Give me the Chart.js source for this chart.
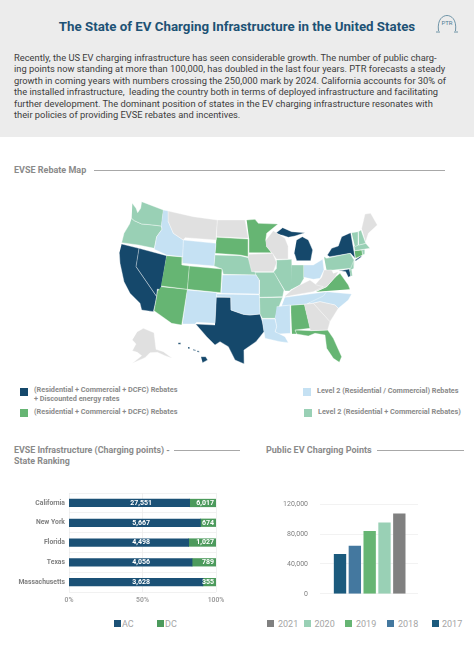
<!DOCTYPE html>
<html>
<head>
<meta charset="utf-8">
<script src="https://cdn.jsdelivr.net/npm/chart.js@4/dist/chart.umd.min.js"></script>
<style>
  html, body { margin: 0; padding: 0; background: #fff; }
  body { position: relative; width: 474px; height: 670px; overflow: hidden; font-family: Roboto, sans-serif; }
  .abs { position: absolute; white-space: nowrap; }
  #header { left: 0; top: 0; width: 474px; height: 137px; background: #ececec; }
  #title { left: 0; width: 474px; top: 17px; text-align: center; font-size: 13.3px; line-height: 20px; font-weight: 700; color: #1d5275; }
  #intro { left: 14px; top: 51.5px; font-size: 9.32px; line-height: 11.5px; color: #3c3c3c; }
  .heading { font-size: 9px; line-height: 10.5px; font-weight: 700; color: #8a8a8a; }
  .rule { height: 1px; background: #a8a8a8; }
  .key { font-size: 7.3px; line-height: 8.6px; font-weight: 700; color: #8a8a8a; }
  .swatch { width: 8px; height: 8px; }
  .leg { font-size: 9px; line-height: 10px; color: #a5a5a5; }
  canvas { position: absolute; }
</style>
</head>
<body>
<div class="abs" id="header"></div>
<div class="abs" id="title">The State of EV Charging Infrastructure in the United States</div>
<svg class="abs" style="left:435px;top:13px" width="24" height="21" viewBox="0 0 24 21" fill="none" stroke="#4f7d96" stroke-width="0.8">
  <path d="M3.5 18 C2 6 8 2.5 12 2.5 C16 2.5 22 6 20.5 18"/>
  <path d="M1 19 H5 M19 19 H23"/>
  <text x="12" y="12" text-anchor="middle" font-size="6" font-family="Roboto" fill="#4f7d96" stroke="none">PTR</text>
</svg>
<div class="abs" id="intro">Recently, the US EV charging infrastructure has seen considerable growth. The number of public charg-<br>ing points now standing at more than 100,000, has doubled in the last four years. PTR forecasts a steady<br>growth in coming years with numbers crossing the 250,000 mark by 2024. California accounts for 30% of<br>the installed infrastructure,&nbsp; leading the country both in terms of deployed infrastructure and facilitating<br>further development. The dominant position of states in the EV charging infrastructure resonates with<br>their policies of providing EVSE rebates and incentives.</div>

<div class="abs heading" style="left:14px;top:165px">EVSE Rebate Map</div>
<div class="abs rule" style="left:94px;top:170px;width:351px"></div>

<canvas id="mapChart" width="300" height="190" style="left:100px;top:190px"></canvas>

<div class="abs swatch" style="left:20px;top:388px;background:#15486b"></div>
<div class="abs key" style="left:34px;top:386px">(Residential + Commercial + DCFC) Rebates<br>+ Discounted energy rates</div>
<div class="abs swatch" style="left:20px;top:409px;background:#66b573"></div>
<div class="abs key" style="left:34px;top:408px">(Residential + Commercial + DCFC) Rebates</div>
<div class="abs swatch" style="left:303px;top:388px;background:#c5e1f3"></div>
<div class="abs key" style="left:317px;top:387px">Level 2 (Residential / Commercial) Rebates</div>
<div class="abs swatch" style="left:304px;top:409px;background:#99d0b5"></div>
<div class="abs key" style="left:318px;top:408px">Level 2 (Residential + Commercial Rebates)</div>

<div class="abs heading" style="left:14px;top:445px;font-size:8.9px">EVSE Infrastructure (Charging points) -<br>State Ranking</div>
<div class="abs rule" style="left:174px;top:450px;width:66px"></div>
<div class="abs heading" style="left:266px;top:445px">Public EV Charging Points</div>
<div class="abs rule" style="left:377px;top:450px;width:87px"></div>

<canvas id="rankChart" width="235" height="125" style="left:0;top:485px"></canvas>
<canvas id="yearChart" width="184" height="122" style="left:240px;top:488px"></canvas>

<div id="legends"></div>

<script>
const stateNames = ["California", "New York", "Florida", "Texas", "Massachusetts"];
const acPoints = [27551, 5667, 4498, 4056, 3628];
const dcPoints = [6017, 674, 1027, 789, 355];
const rankTicks = [0, 50, 100];

const years = [2017, 2018, 2019, 2020, 2021];
const yearlyPoints = [52900, 64000, 83800, 94900, 107200];
const yearColors = ["#1b5a7d", "#44789f", "#66b573", "#99d0b5", "#808080"];
const yearTicks = [0, 40000, 80000, 120000];

// state outlines in map units
const CA = [[65,162],[117,175],[108,230],[170,320],[165,345],[160,365],[125,360],[120,340],[90,310],[72,275],[60,220],[58,190]];
const NV = [[117,175],[200,197],[183,300],[172,297],[170,320],[108,230]];
const TX = [[348,322],[392,322],[393,360],[430,373],[450,375],[480,372],[487,395],[492,425],[468,455],[432,480],[433,522],[405,510],[385,470],[360,455],[345,465],[320,440],[287,402],[345,405]];
const NY = [[682,195],[695,175],[715,168],[725,140],[752,128],[762,185],[765,205],[752,190],[690,200]];
const LI = [[765,210],[782,198],[785,200],[768,212]];
const MIL = [[590,150],[607,140],[625,150],[638,180],[632,212],[590,212],[583,190]];
const MIU = [[527,130],[548,113],[575,125],[615,128],[585,138],[565,142],[545,135]];
const MD = [[716,243],[748,237],[752,258],[745,262],[737,245],[725,243]];
const HI1 = [[303,500],[317,500],[323,510],[308,518]];
const HI2 = [[235,458],[243,458],[243,463],[235,463]];
const HI3 = [[264,471],[270,471],[270,476],[264,476]];
const HI4 = [[279,478],[288,480],[288,483],[279,481]];
const HI5 = [[292,482],[298,483],[298,487],[292,486]];
const navyStates = [CA, NV, TX, NY, LI, MIL, MIU, MD, HI1, HI2, HI3, HI4, HI5];

const UT = [[200,197],[248,201],[246,225],[268,228],[262,298],[183,288]];
const CO = [[268,228],[366,237],[362,308],[262,298]];
const AZ = [[183,290],[262,298],[245,405],[215,400],[162,362],[170,320],[172,305]];
const SD = [[350,142],[445,147],[445,200],[420,195],[345,190]];
const MN = [[440,90],[465,88],[475,100],[534,102],[500,130],[497,150],[500,168],[515,188],[447,188],[447,145]];
const AL = [[572,345],[613,343],[630,415],[585,420],[590,432],[576,432]];
const FL = [[585,420],[632,422],[683,420],[700,445],[725,500],[718,517],[700,505],[680,475],[675,435],[645,430],[625,438],[590,432]];
const VA = [[648,305],[680,290],[705,262],[720,250],[745,285],[750,298]];
const CT = [[764,182],[785,180],[788,195],[767,205]];
const greenStates = [UT, CO, AZ, SD, MN, AL, FL, VA, CT];

const ID = [[190,60],[205,63],[205,95],[220,130],[250,150],[248,200],[200,195],[163,178],[170,140],[186,118],[184,108]];
const WY = [[250,150],[348,160],[342,228],[248,220]];
const NM = [[262,300],[350,308],[345,400],[290,397],[285,402],[248,402]];
const KS = [[368,255],[468,255],[478,270],[478,312],[364,310]];
const OK = [[350,312],[478,314],[480,372],[450,375],[430,373],[393,360],[393,322],[350,320]];
const LA = [[487,387],[525,387],[530,410],[525,425],[555,440],[565,458],[540,455],[495,445],[492,425]];
const MS = [[530,350],[570,345],[572,430],[535,432],[525,425],[530,410],[525,385]];
const TN = [[555,322],[680,305],[670,318],[620,342],[545,348]];
const NC = [[680,305],[755,312],[745,330],[715,355],[705,345],[660,335],[625,342],[640,325]];
const OH = [[612,225],[640,225],[668,208],[672,240],[660,265],[640,268],[612,262]];
const blueStates = [ID, WY, NM, KS, OK, LA, MS, TN, NC, OH];

const WA = [[97,40],[108,55],[113,68],[122,55],[125,35],[190,60],[184,108],[150,104],[125,102],[103,92],[95,85]];
const OR = [[95,85],[103,92],[125,102],[150,104],[184,108],[186,118],[170,140],[163,175],[115,165],[65,158],[72,130],[90,100]];
const NE = [[345,195],[420,197],[445,203],[455,220],[468,255],[370,253],[366,237],[342,228]];
const MO = [[463,247],[522,247],[535,270],[552,300],[548,320],[478,322],[478,270]];
const AR = [[478,323],[548,322],[535,355],[525,385],[487,385],[480,372]];
const IN = [[575,225],[612,225],[612,265],[600,285],[575,298]];
const IL = [[530,210],[575,208],[578,295],[568,303],[555,303],[535,270],[520,247],[530,235]];
const PA = [[672,200],[680,205],[750,190],[762,210],[752,235],[680,242]];
const NJ = [[755,205],[763,210],[762,235],[752,240],[750,225]];
const DE = [[748,235],[755,237],[757,258],[752,258]];
const VT = [[755,128],[775,125],[775,165],[765,170]];
const NH = [[775,125],[783,120],[797,160],[777,165]];
const MA = [[763,168],[797,160],[810,175],[790,178],[765,182]];
const RI = [[786,180],[795,178],[795,192],[789,194]];
const mintStates = [WA, OR, NE, MO, AR, IN, IL, PA, NJ, DE, VT, NH, MA, RI];

const MT = [[205,63],[280,80],[352,90],[348,150],[255,143],[250,150],[220,130],[205,95]];
const ND = [[352,90],[435,90],[445,145],[350,140]];
const IA = [[447,193],[518,190],[530,218],[520,245],[455,245],[445,205]];
const WI = [[498,150],[520,122],[555,145],[565,170],[565,207],[530,208],[515,188],[498,168]];
const KY = [[555,318],[575,300],[600,285],[630,270],[650,285],[670,290],[640,305],[555,320]];
const WV = [[640,290],[665,262],[672,240],[695,240],[700,250],[715,245],[705,262],[680,290],[650,303]];
const GA = [[613,343],[640,340],[690,395],[683,420],[632,422]];
const SC = [[640,340],[660,335],[705,345],[715,355],[690,395]];
const ME = [[785,115],[795,72],[812,70],[832,105],[805,130],[797,155]];
const AK = [[112,425],[130,415],[162,428],[168,478],[190,485],[217,505],[195,497],[172,487],[150,488],[135,503],[97,520],[125,497],[112,487],[97,482],[108,462],[97,450]];
const greyStates = [MT, ND, IA, WI, KY, WV, GA, SC, ME, AK];

function shapeDatasets(shapes, color) {
  return shapes.map((shape) => ({
    data: shape.map((p) => ({ x: p[0], y: p[1] })),
    showLine: true,
    fill: "shape",
    tension: 0,
    pointRadius: 0,
    backgroundColor: color,
    borderColor: "rgba(255, 255, 255, 0.75)",
    borderWidth: 0.5,
  }));
}

new Chart(document.getElementById("mapChart"), {
  type: "scatter",
  data: {
    datasets: [
      ...shapeDatasets(greyStates, "#e0e0e0"),
      ...shapeDatasets(blueStates, "#c5e1f3"),
      ...shapeDatasets(mintStates, "#99d0b5"),
      ...shapeDatasets(greenStates, "#66b573"),
      ...shapeDatasets(navyStates, "#15486b"),
    ],
  },
  options: {
    responsive: false,
    animation: false,
    events: [],
    layout: { padding: 0 },
    scales: {
      x: { type: "linear", display: false, min: 0, max: 900 },
      y: { type: "linear", display: false, min: 0, max: 570, reverse: true },
    },
    plugins: { legend: { display: false }, tooltip: { enabled: false } },
  },
});

// percent share of each state for the 100% stacked bars
const acShare = acPoints.map((v, i) => (v / (v + dcPoints[i])) * 100);
const dcShare = dcPoints.map((v, i) => (v / (v + acPoints[i])) * 100);

const rankLabels = {
  id: "rankLabels",
  afterDatasetsDraw(chart) {
    const { ctx, scales } = chart;
    ctx.save();
    ctx.fillStyle = "#fff";
    ctx.font = "700 7px Roboto";
    ctx.textBaseline = "middle";
    stateNames.forEach((name, i) => {
      const y = scales.y.getPixelForValue(i);
      ctx.textAlign = "center";
      ctx.fillText(acPoints[i].toLocaleString("en-US"), scales.x.getPixelForValue(49), y);
      ctx.textAlign = "right";
      ctx.fillText(dcPoints[i].toLocaleString("en-US"), scales.x.getPixelForValue(100) - 2, y);
    });
    ctx.restore();
  },
};

new Chart(document.getElementById("rankChart"), {
  type: "bar",
  data: {
    labels: stateNames,
    datasets: [
      { label: "AC", data: acShare, backgroundColor: "#1b5176", barThickness: 7.6 },
      { label: "DC", data: dcShare, backgroundColor: "#4c9a5c", barThickness: 7.6 },
    ],
  },
  plugins: [rankLabels],
  options: {
    indexAxis: "y",
    responsive: false,
    animation: false,
    events: [],
    layout: { padding: { top: 8, right: 19, bottom: 0, left: 0 } },
    scales: {
      x: {
        stacked: true,
        min: 0,
        max: 100,
        afterBuildTicks(axis) {
          axis.ticks = rankTicks.map((value) => ({ value }));
        },
        afterFit(axis) {
          axis.height = 18;
        },
        border: { display: false },
        grid: { color: "#e8e8e8", lineWidth: 0.6, drawTicks: false },
        ticks: {
          padding: 4,
          maxRotation: 0,
          color: "#9a9a9a",
          font: { size: 6.8, weight: "600", family: "Roboto" },
          callback: (value) => value + "%",
        },
      },
      y: {
        stacked: true,
        afterFit(axis) {
          axis.width = 69;
        },
        border: { display: false },
        grid: { color: "#e8e8e8", lineWidth: 0.6, drawTicks: false },
        ticks: {
          padding: 4,
          color: "#808080",
          font: { size: 6.8, weight: "700", family: "Roboto" },
        },
      },
    },
    plugins: { legend: { display: false }, tooltip: { enabled: false } },
  },
});

new Chart(document.getElementById("yearChart"), {
  type: "bar",
  data: {
    datasets: [
      {
        data: years.map((year, i) => ({ x: year, y: yearlyPoints[i] })),
        backgroundColor: yearColors,
        barThickness: 11.7,
      },
    ],
  },
  options: {
    responsive: false,
    animation: false,
    events: [],
    layout: { autoPadding: false, padding: { top: 7.7, right: 6, bottom: 7.7, left: 0 } },
    scales: {
      x: {
        type: "linear",
        offset: false,
        min: 2015.65,
        max: 2022.26,
        display: false,
      },
      y: {
        min: 0,
        max: 120000,
        afterBuildTicks(axis) {
          axis.ticks = yearTicks.map((value) => ({ value }));
        },
        afterFit(axis) {
          axis.width = 80;
        },
        border: { display: false },
        grid: { color: "#f2f2f2", lineWidth: 1, drawTicks: false },
        ticks: {
          padding: 12,
          color: "#808080",
          font: { size: 7, family: "Roboto" },
          callback: (value) => value.toLocaleString("en-US"),
        },
      },
    },
    plugins: { legend: { display: false }, tooltip: { enabled: false } },
  },
});

// legends sit below the plots at their own spacing
const legendSpots = [
  { text: "AC", color: "#1b5176", left: 114, gap: 8 },
  { text: "DC", color: "#4c9a5c", left: 157, gap: 8 },
  { text: "2021", color: yearColors[4], left: 267, gap: 11 },
  { text: "2020", color: yearColors[3], left: 303.5, gap: 11 },
  { text: "2019", color: yearColors[2], left: 345, gap: 11 },
  { text: "2018", color: yearColors[1], left: 387, gap: 11 },
  { text: "2017", color: yearColors[0], left: 432, gap: 10 },
];
const legends = document.getElementById("legends");
legendSpots.forEach((spot) => {
  const box = document.createElement("div");
  box.className = "abs";
  box.style.cssText = `left:${spot.left}px;top:620px;width:7px;height:7px;background:${spot.color}`;
  const label = document.createElement("div");
  label.className = "abs leg";
  label.style.cssText = `left:${spot.left + spot.gap}px;top:619px`;
  label.textContent = spot.text;
  legends.append(box, label);
});
</script>
</body>
</html>
